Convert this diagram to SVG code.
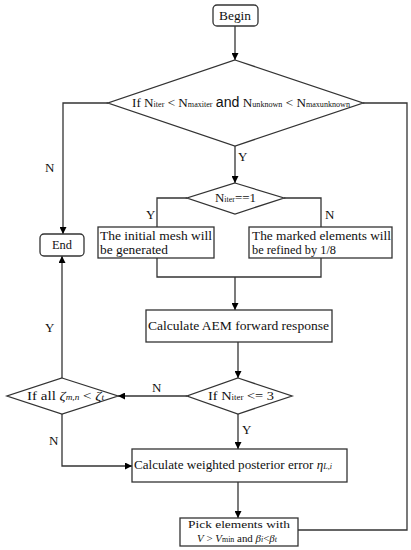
<svg xmlns="http://www.w3.org/2000/svg" width="411" height="550" viewBox="0 0 411 550">
<defs>
<marker id="ah" viewBox="0 0 10 10" refX="10" refY="5" markerWidth="7" markerHeight="7" markerUnits="userSpaceOnUse" orient="auto">
<path d="M0,0 L10,5 L0,10 z" fill="#000"/>
</marker>
</defs>
<style>
.s{fill:#fff;stroke:#333;stroke-width:1.3}
.l{fill:none;stroke:#333;stroke-width:1.3}
.t{font-family:"Liberation Serif","DejaVu Serif","Times New Roman",serif;font-size:13px;fill:#111}
.m{font-size:12px}
.p{font-size:11px}
.sub{font-size:8px}
.lab{font-family:"Liberation Serif","DejaVu Serif","Times New Roman",serif;font-size:13px;fill:#111}
</style>
<rect width="411" height="550" fill="#fff"/>
<g id="connectors">
<path class="l" d="M235,26 V60" marker-end="url(#ah)"/>
<path class="l" d="M108,103 H63 V234" marker-end="url(#ah)"/>
<path class="l" d="M235,146 V183" marker-end="url(#ah)"/>
<path class="l" d="M187,198 H157 V227"/>
<path class="l" d="M284,198 H321 V227"/>
<path class="l" d="M157,258 V277 H321 V258"/>
<path class="l" d="M235,277 V310" marker-end="url(#ah)"/>
<path class="l" d="M238,342 V378" marker-end="url(#ah)"/>
<path class="l" d="M187,396 H118" marker-end="url(#ah)"/>
<path class="l" d="M62,378 V256" marker-end="url(#ah)"/>
<path class="l" d="M62,414 V466 H132" marker-end="url(#ah)"/>
<path class="l" d="M238,414 V449" marker-end="url(#ah)"/>
<path class="l" d="M238,482 V518" marker-end="url(#ah)"/>
<path class="l" d="M298,530 H407 V103 H363"/>
<text class="lab" x="45" y="172">N</text>
<text class="lab" x="238" y="161">Y</text>
<text class="lab" x="146" y="219">Y</text>
<text class="lab" x="325" y="219">N</text>
<text class="lab" x="45" y="332">Y</text>
<text class="lab" x="152" y="392">N</text>
<text class="lab" x="242" y="434">Y</text>
<text class="lab" x="49" y="445">N</text>
</g>
<g id="begin">
<rect class="s" x="213" y="5" width="45" height="21" rx="4"/>
<text class="t" x="219" y="20" textLength="32" lengthAdjust="spacingAndGlyphs">Begin</text>
</g>
<g id="cond1">
<path class="s" d="M235,60 L363,103 L235,146 L108,103 Z"/>
<text class="t" x="132" y="107" textLength="218" lengthAdjust="spacingAndGlyphs">If  N<tspan class="sub">iter</tspan> &lt;  N<tspan class="sub">maxiter</tspan> <tspan style="font-family:'Liberation Sans',Arial,sans-serif;font-size:14px">and</tspan> N<tspan class="sub">unknown</tspan> &lt; N<tspan class="sub">maxunknown</tspan></text>
</g>
<g id="end">
<rect class="s" x="40" y="234" width="44" height="22" rx="4"/>
<text class="t" x="52" y="249" textLength="20" lengthAdjust="spacingAndGlyphs">End</text>
</g>
<g id="cond2">
<path class="s" d="M235,183 L284,198 L235,214 L187,198 Z"/>
<text class="t" x="215" y="202" textLength="41" lengthAdjust="spacingAndGlyphs">N<tspan class="sub">iter</tspan>==1</text>
</g>
<g id="initmesh">
<rect class="s" x="98" y="227" width="116" height="31"/>
<text class="t m" x="100" y="240" textLength="112" lengthAdjust="spacingAndGlyphs">The initial mesh will</text>
<text class="t m" x="100" y="254" textLength="68" lengthAdjust="spacingAndGlyphs">be generated</text>
</g>
<g id="refine">
<rect class="s" x="249" y="227" width="143" height="31"/>
<text class="t m" x="252" y="240" textLength="139" lengthAdjust="spacingAndGlyphs">The marked elements will</text>
<text class="t m" x="252" y="254" textLength="84" lengthAdjust="spacingAndGlyphs">be refined by 1/8</text>
</g>
<g id="aem">
<rect class="s" x="146" y="310" width="186" height="32"/>
<text class="t" x="148" y="330" textLength="181" lengthAdjust="spacingAndGlyphs">Calculate AEM forward response</text>
</g>
<g id="cond3">
<path class="s" d="M238,378 L292,396 L238,414 L187,396 Z"/>
<text class="t" x="208" y="400" textLength="66" lengthAdjust="spacingAndGlyphs">If  N<tspan class="sub">iter</tspan> &lt;= 3</text>
</g>
<g id="cond4">
<path class="s" d="M62,378 L118,396 L62,414 L7,396 Z"/>
<text class="t" x="27" y="400" textLength="77" lengthAdjust="spacingAndGlyphs">If all <tspan font-style="italic">ζ</tspan><tspan class="sub" font-style="italic">m,n</tspan> &lt; <tspan font-style="italic">ζ</tspan><tspan class="sub" font-style="italic">t</tspan></text>
</g>
<g id="posterior">
<rect class="s" x="132" y="449" width="215" height="33"/>
<text class="t" x="134" y="469" textLength="198" lengthAdjust="spacingAndGlyphs">Calculate weighted posterior error <tspan font-style="italic">η</tspan><tspan class="sub" font-style="italic">L,i</tspan></text>
</g>
<g id="pick">
<rect class="s" x="180" y="518" width="118" height="28"/>
<text class="t p" x="188" y="528" textLength="102" lengthAdjust="spacingAndGlyphs">Pick elements with</text>
<text class="t p" x="197" y="542" textLength="80" lengthAdjust="spacingAndGlyphs"><tspan font-style="italic">V</tspan> &gt; <tspan font-style="italic">V</tspan><tspan class="sub">min</tspan> and <tspan font-style="italic">β</tspan><tspan class="sub" font-style="italic">i</tspan>&lt;<tspan font-style="italic">β</tspan><tspan class="sub" font-style="italic">t</tspan></text>
</g>
</svg>
